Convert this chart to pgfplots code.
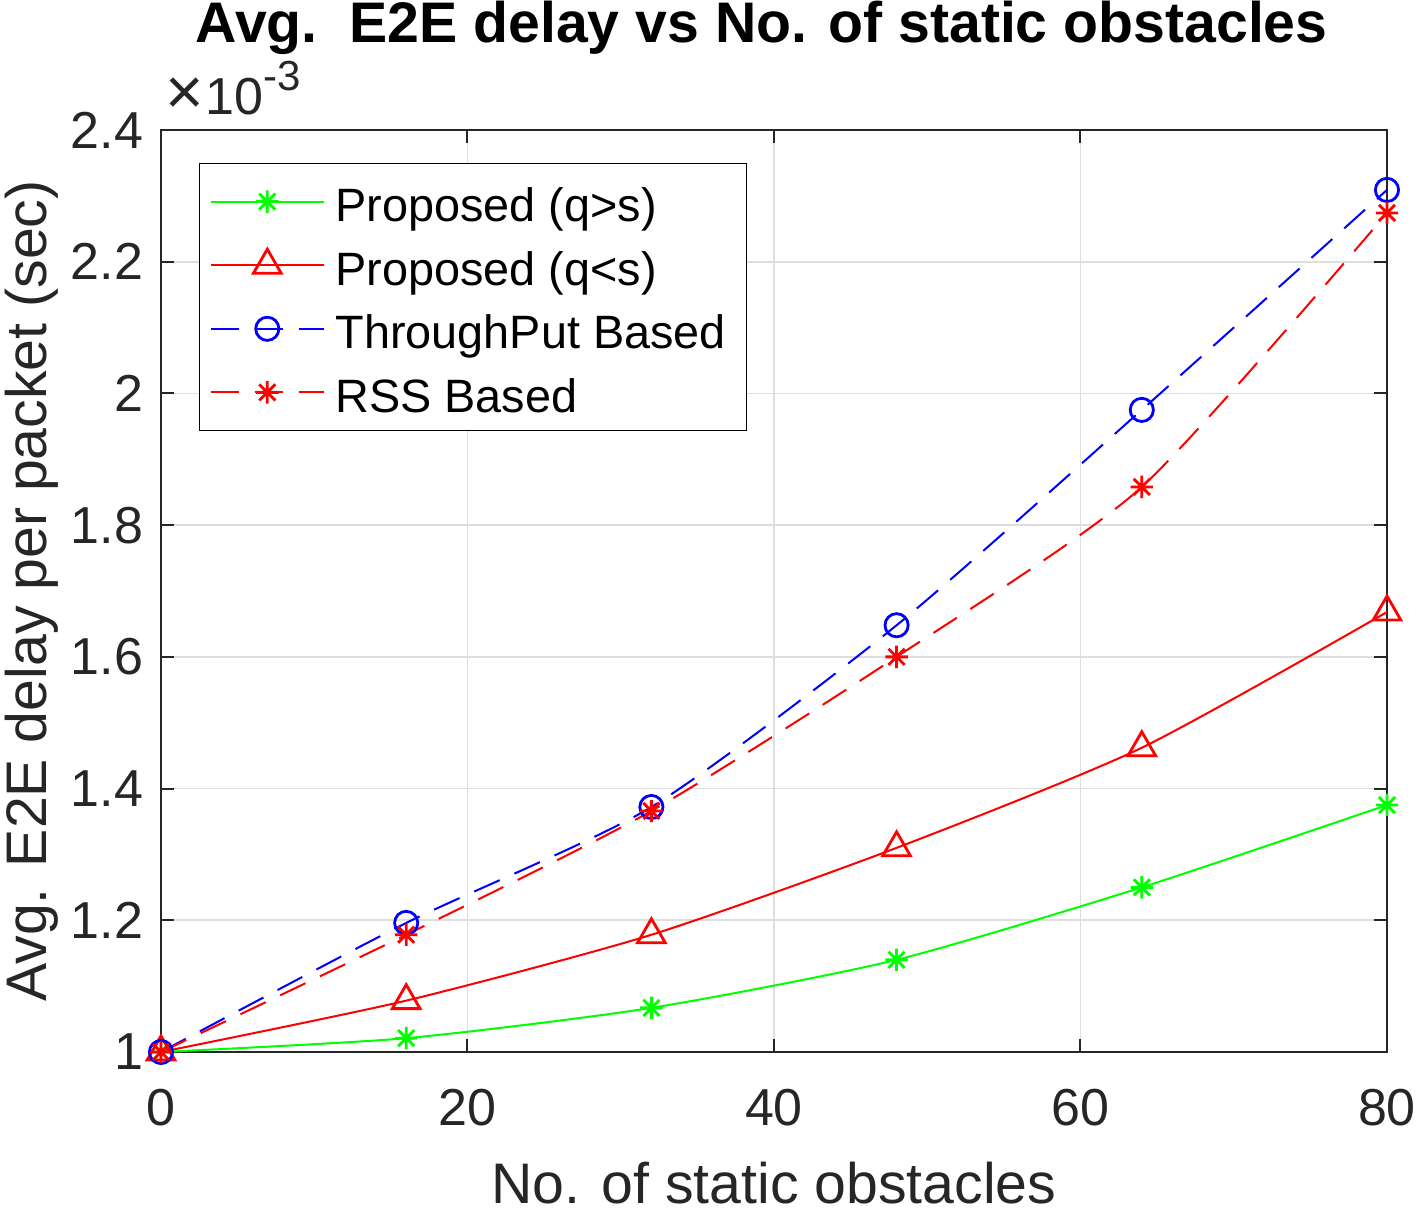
\documentclass[border=0pt]{standalone}
\usepackage{fontspec}
\setmainfont{Liberation Sans}
\usepackage{pgfplots}
\pgfplotsset{compat=1.18}

\definecolor{axgray}{gray}{0.15}
\definecolor{gridgray}{gray}{0.87}

% MATLAB style asterisk: plus and cross on top of each other
\pgfdeclareplotmark{mstar}{%
  \pgfpathmoveto{\pgfpoint{0pt}{\pgfplotmarksize}}%
  \pgfpathlineto{\pgfpoint{0pt}{-\pgfplotmarksize}}%
  \pgfpathmoveto{\pgfpoint{\pgfplotmarksize}{0pt}}%
  \pgfpathlineto{\pgfpoint{-\pgfplotmarksize}{0pt}}%
  \pgfpathmoveto{\pgfpoint{0.72\pgfplotmarksize}{0.72\pgfplotmarksize}}%
  \pgfpathlineto{\pgfpoint{-0.72\pgfplotmarksize}{-0.72\pgfplotmarksize}}%
  \pgfpathmoveto{\pgfpoint{-0.72\pgfplotmarksize}{0.72\pgfplotmarksize}}%
  \pgfpathlineto{\pgfpoint{0.72\pgfplotmarksize}{-0.72\pgfplotmarksize}}%
  \pgfusepathqstroke}

\begin{document}
\begin{tikzpicture}
\begin{axis}[
  at={(0,0)}, anchor=south west,
  scale only axis, width=613pt, height=461pt,
  xmin=0, xmax=80, ymin=1, ymax=2.4,
  xtick={0,20,40,60,80},
  ytick={1,1.2,1.4,1.6,1.8,2,2.2,2.4},
  grid=major,
  major grid style={gridgray, line width=0.8pt},
  axis line style={axgray, line width=1pt},
  tick style={axgray, line width=1pt},
  tick align=inside, major tick length=6.5pt,
  /pgf/number format/assume math mode=true,
  ticklabel style={font=\fontsize{26}{30}\selectfont, text=axgray},
  xticklabel style={yshift=-15pt},
  yticklabel style={xshift=-5.5pt},
  xlabel={No. of static obstacles},
  ylabel={Avg. E2E delay per packet (sec)},
  label style={font=\fontsize{28.6}{32}\selectfont, text=axgray, inner sep=0pt},
  xlabel style={at={(axis description cs:0.5,-0.1638)}, anchor=base},
  ylabel style={at={(axis description cs:-0.0938,0.5)}, anchor=base},
  title={Avg.\ \ E2E delay vs No. of static obstacles},
  title style={font=\bfseries\fontsize{28.6}{32}\selectfont, inner sep=0pt,
    at={(axis description cs:0.49,1)}, anchor=base, yshift=37.5pt},
  clip=false,
  legend style={at={(axis description cs:0.031,0.9642)}, anchor=north west,
    font=\fontsize{23.4}{26}\selectfont, draw=black, line width=0.6pt,
    fill=white, inner xsep=5pt, inner ysep=3.1pt, row sep=0pt,
    cells={anchor=base west},
    nodes={inner xsep=5.25pt, inner ysep=2pt, text height=23.9pt, text depth=3.9pt}},
  legend image code/.code={%
    \draw[mark repeat=2, mark phase=2, #1]
      plot coordinates {(0pt,10pt) (28.35pt,10pt) (56.7pt,10pt)};},
]
\addplot[green, line width=1pt, smooth, tension=0.4,
  mark=mstar, mark size=5.6pt, mark options={line width=1.4pt}]
  coordinates {(0,1.000) (16,1.021) (32,1.067) (48,1.140) (64,1.250) (80,1.375)};
\addlegendentry{Proposed (q>s)}

\addplot[red, line width=1pt, smooth, tension=0.4,
  mark=triangle, mark size=8pt, mark options={line width=1.4pt}]
  coordinates {(0,1.000) (16,1.078) (32,1.178) (48,1.310) (64,1.462) (80,1.668)};
\addlegendentry{Proposed (q<s)}

\addplot[blue, line width=1pt, smooth, tension=0.4,
  dash pattern=on 14pt off 8pt,
  mark=o, mark size=5.8pt, mark options={solid, line width=1.4pt}]
  coordinates {(0,1.000) (16,1.196) (32,1.372) (48,1.648) (64,1.975) (80,2.309)};
\addlegendentry{ThroughPut Based}

\addplot[red, line width=1pt, smooth, tension=0.4,
  dash pattern=on 14pt off 8pt,
  mark=mstar, mark size=5.6pt, mark options={solid, line width=1.4pt}]
  coordinates {(0,1.000) (16,1.178) (32,1.366) (48,1.600) (64,1.858) (80,2.274)};
\addlegendentry{RSS Based}

\node[anchor=base west, inner sep=0pt, text=axgray,
  font=\fontsize{26}{30}\selectfont]
  at ([xshift=2pt, yshift=7.5pt]rel axis cs:0,1)
  {{\fontsize{33}{30}\selectfont ×}\kern1pt 10\raisebox{12pt}{\fontsize{21}{22}\selectfont -3}};
\end{axis}
\pgfresetboundingbox
\useasboundingbox (-80.5pt,-78pt) rectangle (628pt,526pt);
\end{tikzpicture}
\end{document}
